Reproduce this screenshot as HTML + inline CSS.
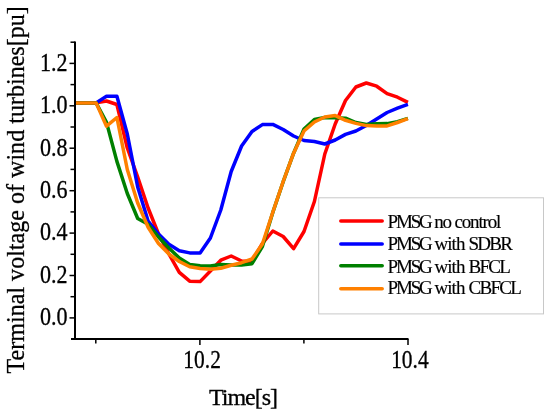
<!DOCTYPE html>
<html><head><meta charset="utf-8"><style>
html,body{margin:0;padding:0;background:#fff;}
svg{display:block;}
text{font-family:"Liberation Serif",serif;fill:#000;stroke:#000;stroke-width:0.3px;}
.lg{stroke-width:0.15px;}
</style></head><body>
<svg width="550" height="418" viewBox="0 0 550 418">
<rect width="550" height="418" fill="#fff"/>
<g fill="none" stroke-width="3.5" stroke-linejoin="round" stroke-linecap="butt"><polyline points="75.3,102.9 85.7,102.9 96.1,102.9 106.5,101.0 116.9,104.5 127.3,148.0 137.7,177.0 148.1,208.0 158.5,234.0 168.9,254.0 179.3,272.3 189.7,281.2 200.1,281.6 210.4,271.0 220.8,260.2 231.2,256.0 241.6,261.0 252.0,261.5 262.4,243.5 272.8,231.0 283.2,236.5 293.6,248.7 304.0,231.5 314.4,201.5 324.8,154.0 335.2,124.0 345.5,100.5 355.9,87.0 366.3,83.0 376.7,86.2 387.1,93.6 397.5,97.2 407.9,102.4" stroke="#ff0000"/><polyline points="75.3,102.9 85.7,102.9 96.1,102.9 106.5,96.2 116.9,96.2 127.3,134.0 137.7,187.0 148.1,221.0 158.5,234.0 168.9,244.3 179.3,250.7 189.7,252.9 200.1,253.0 210.4,238.0 220.8,210.0 231.2,171.5 241.6,146.0 252.0,131.5 262.4,124.6 272.8,124.4 283.2,129.5 293.6,136.0 304.0,140.5 314.4,141.5 324.8,144.0 335.2,140.0 345.5,134.4 355.9,131.0 366.3,125.5 376.7,119.0 387.1,112.5 397.5,108.2 407.9,104.3" stroke="#0000ff"/><polyline points="75.3,102.9 85.7,102.9 96.1,102.9 106.5,122.4 116.9,161.4 127.3,193.5 137.7,218.5 148.1,224.3 158.5,237.0 168.9,248.0 179.3,258.0 189.7,264.4 200.1,265.8 210.4,266.1 220.8,264.5 231.2,264.9 241.6,265.0 252.0,263.7 262.4,246.5 272.8,212.4 283.2,181.7 293.6,153.2 304.0,129.0 314.4,119.5 324.8,117.5 335.2,117.8 345.5,118.2 355.9,122.5 366.3,124.5 376.7,123.8 387.1,123.6 397.5,121.6 407.9,118.4" stroke="#008000"/><polyline points="75.3,102.9 85.7,102.9 96.1,102.9 106.5,126.2 116.9,117.5 127.3,169.5 137.7,203.0 148.1,227.3 158.5,243.5 168.9,254.0 179.3,261.5 189.7,266.8 200.1,268.4 210.4,269.2 220.8,268.2 231.2,265.2 241.6,262.7 252.0,259.0 262.4,244.0 272.8,212.2 283.2,181.5 293.6,153.2 304.0,131.0 314.4,122.0 324.8,117.0 335.2,115.6 345.5,120.3 355.9,123.4 366.3,125.6 376.7,126.0 387.1,125.9 397.5,122.5 407.9,118.7" stroke="#ff8000"/></g>
<g stroke="#000" stroke-width="2">
<line x1="75" y1="41.5" x2="75" y2="339"/>
<line x1="71" y1="339" x2="408.5" y2="339"/>
</g>
<g stroke="#000" stroke-width="1.5"><line x1="69.5" y1="317.9" x2="75" y2="317.9"/><line x1="70.5" y1="296.7" x2="75" y2="296.7"/><line x1="69.5" y1="275.5" x2="75" y2="275.5"/><line x1="70.5" y1="254.3" x2="75" y2="254.3"/><line x1="69.5" y1="233.1" x2="75" y2="233.1"/><line x1="70.5" y1="211.9" x2="75" y2="211.9"/><line x1="69.5" y1="190.7" x2="75" y2="190.7"/><line x1="70.5" y1="169.4" x2="75" y2="169.4"/><line x1="69.5" y1="148.2" x2="75" y2="148.2"/><line x1="70.5" y1="127.0" x2="75" y2="127.0"/><line x1="69.5" y1="105.8" x2="75" y2="105.8"/><line x1="70.5" y1="84.6" x2="75" y2="84.6"/><line x1="69.5" y1="63.4" x2="75" y2="63.4"/><line x1="70.5" y1="42.2" x2="75" y2="42.2"/><line x1="95.8" y1="339" x2="95.8" y2="343.5"/><line x1="199.9" y1="339" x2="199.9" y2="345.0"/><line x1="303.9" y1="339" x2="303.9" y2="343.5"/><line x1="408.0" y1="339" x2="408.0" y2="345.0"/></g>
<g font-size="24"><text transform="translate(67.6,325.2) scale(0.85,1)" text-anchor="end" font-size="26">0.0</text><text transform="translate(67.6,282.8) scale(0.85,1)" text-anchor="end" font-size="26">0.2</text><text transform="translate(67.6,240.4) scale(0.85,1)" text-anchor="end" font-size="26">0.4</text><text transform="translate(67.6,198.0) scale(0.85,1)" text-anchor="end" font-size="26">0.6</text><text transform="translate(67.6,155.5) scale(0.85,1)" text-anchor="end" font-size="26">0.8</text><text transform="translate(67.6,113.1) scale(0.85,1)" text-anchor="end" font-size="26">1.0</text><text transform="translate(67.6,70.7) scale(0.85,1)" text-anchor="end" font-size="26">1.2</text>
<text transform="translate(202.1,368.1) scale(0.825,1)" text-anchor="middle" font-size="26">10.2</text>
<text transform="translate(409.9,368.1) scale(0.825,1)" text-anchor="middle" font-size="26">10.4</text>
<text x="243" y="405.3" text-anchor="middle" letter-spacing="-1">Time[s]</text>
<text transform="translate(24.1,189.8) rotate(-90) scale(0.937,1)" text-anchor="middle" font-size="25.7">Terminal voltage of wind turbines[pu]</text>
</g>
<rect x="318.7" y="197.8" width="224.8" height="116.1" fill="#fff" stroke="#c8c8c8" stroke-width="1"/>
<g stroke-width="3.5" stroke-linecap="round"><line x1="340.8" y1="221.0" x2="382.2" y2="221.0" stroke="#ff0000"/><line x1="340.8" y1="244.0" x2="382.2" y2="244.0" stroke="#0000ff"/><line x1="340.8" y1="265.8" x2="382.2" y2="265.8" stroke="#008000"/><line x1="340.8" y1="288.7" x2="382.2" y2="288.7" stroke="#ff8000"/></g>
<g font-size="19"><text class="lg" x="387.6" y="228.1"><tspan letter-spacing="-2.2">PMSG</tspan><tspan letter-spacing="-1.15"> no control</tspan></text><text class="lg" x="387.6" y="249.6"><tspan letter-spacing="-2.2">PMSG</tspan><tspan letter-spacing="-0.9"> with </tspan><tspan letter-spacing="-1.7">SDBR</tspan></text><text class="lg" x="387.6" y="272.7"><tspan letter-spacing="-2.2">PMSG</tspan><tspan letter-spacing="-0.9"> with </tspan><tspan letter-spacing="-1.7">BFCL</tspan></text><text class="lg" x="387.6" y="294.3"><tspan letter-spacing="-2.2">PMSG</tspan><tspan letter-spacing="-0.9"> with </tspan><tspan letter-spacing="-1.7">CBFCL</tspan></text></g>
</svg>
</body></html>
